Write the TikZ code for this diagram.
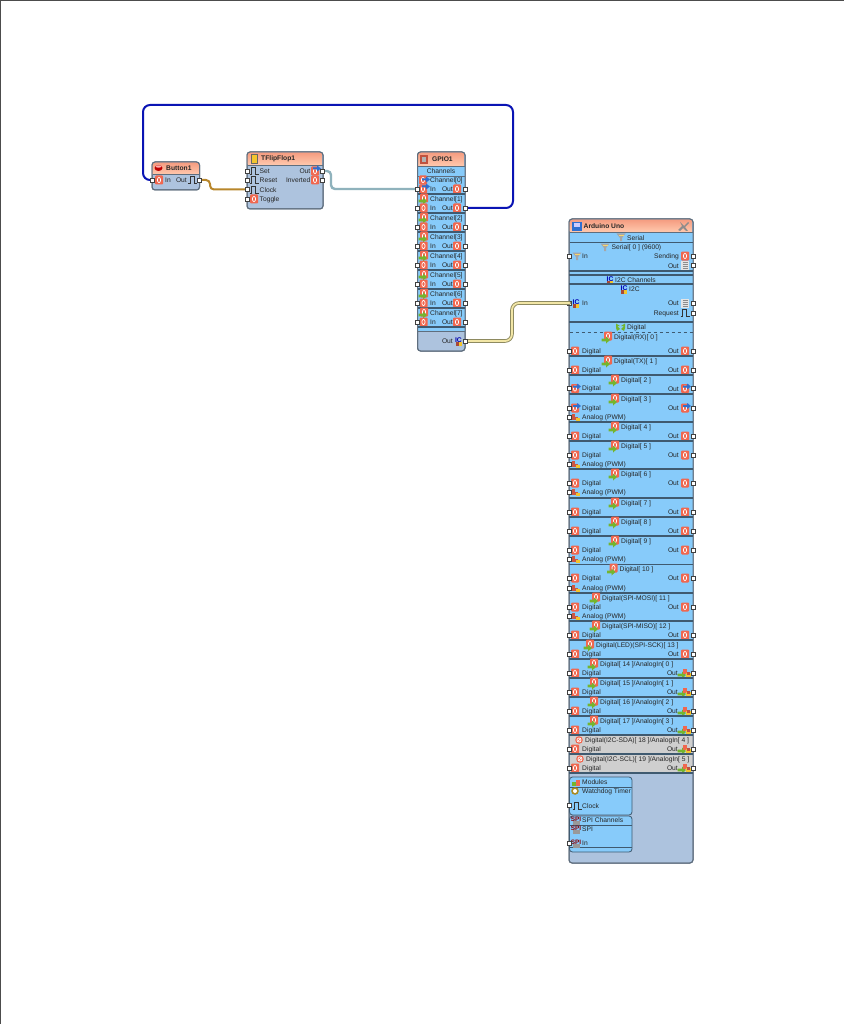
\documentclass[tikz,border=0pt]{standalone}
\usepackage{fontspec}
\setmainfont{Liberation Sans}
\usetikzlibrary{calc}
\definecolor{panel}{HTML}{ADC3DE}
\definecolor{band}{HTML}{87CBFA}
\definecolor{edge}{HTML}{5F6E7E}
\definecolor{sep}{HTML}{3F5A70}
\definecolor{hdA}{HTML}{F59C80}
\definecolor{hdB}{HTML}{FFC9AE}
\definecolor{pinred}{HTML}{F0674F}
\definecolor{wblue}{HTML}{0A14B4}
\definecolor{worange}{HTML}{B8862B}
\definecolor{wteal}{HTML}{8FB2BC}
\definecolor{wyel}{HTML}{F2E6A6}
\definecolor{wyelo}{HTML}{8E8A60}
\definecolor{igreen}{HTML}{74B52E}
\definecolor{iblue}{HTML}{2F6FD0}
\definecolor{iyel}{HTML}{F2C52E}
\definecolor{greyband}{HTML}{CFCFCF}
\tikzset{
 x=1pt,y=-1pt,
 box/.style={draw=edge,line width=1pt,fill=panel,rounded corners=3pt},
 head/.style={top color=hdA,bottom color=hdB,draw=none},
 lbl/.style={font=\fontsize{6.7}{8}\selectfont,text=black!85,inner sep=0pt,yshift=-.5pt},
 ttl/.style={font=\fontsize{6.7}{8}\selectfont\bfseries,text=black!85,inner sep=0pt,yshift=-.5pt},
 pin/.style={draw=black!75,fill=white,line width=.6pt,minimum size=4pt,inner sep=0pt,rectangle},
 sepl/.style={draw=sep,line width=1.5pt},
 wire/.style={line width=2pt,line cap=round},
}
\newcommand{\redi}[1]{\begin{scope}[shift={(#1)}]
 \fill[pinred,rounded corners=1pt] (-4,-4.5) rectangle (4,4.5);
 \draw[white,line width=.7pt] (0,0) ellipse [x radius=1.6pt,y radius=2.6pt];
\end{scope}}
\newcommand{\clk}[1]{\begin{scope}[shift={(#1)}]
 \draw[black!80,line width=.9pt] (-4.5,3.5) -- (-2.5,3.5) -- (-2.5,-3.5) -- (1.5,-3.5) -- (1.5,3.5) -- (4.5,3.5);
\end{scope}}
\newcommand{\greena}[1]{\begin{scope}[shift={(#1)}]
 \fill[igreen] (-4.5,-1.3) -- (0,-1.3) -- (0,-3.5) -- (4,0) -- (0,3.5) -- (0,1.3) -- (-4.5,1.3) -- cycle;
\end{scope}}
\newcommand{\bluea}[1]{\begin{scope}[shift={(#1)}]
 \fill[iblue] (-4,-1) -- (0,-1) -- (0,-3) -- (4,0) -- (0,3) -- (0,1) -- (-4,1) -- cycle;
\end{scope}}
\newcommand{\gicon}[1]{\redi{$(#1)+(-1,-1)$}\greena{$(#1)+(-3,3)$}}
\newcommand{\ana}[1]{\begin{scope}[shift={(#1)}]
 \fill[pinred!85!black] (-4,-3.5) rectangle (-1,3);
 \fill[pinred!85!black] (-1,-.5) rectangle (2,3);
 \fill[iyel] (0,1) rectangle (4,4);
\end{scope}}
\newcommand{\anag}[1]{\begin{scope}[shift={(#1)}]
 \greena{-3,2}
 \fill[pinred] (-2,-4) rectangle (2,1);
 \fill[iyel] (1,0) rectangle (6,3.5);
 \fill[pinred!80!black] (2,-1.5) rectangle (5,1.5);
\end{scope}}
\newcommand{\seri}[1]{\begin{scope}[shift={(#1)}]
 \fill[black!35] (-4.5,-3.5) -- (4.5,-3.5) -- (1,1) -- (1,4) -- (-1,4) -- (-1,1) -- cycle;
 \fill[iyel!70!white] (-2.5,-2.5) rectangle (2.5,-.8);
\end{scope}}
\newcommand{\chipi}[1]{\begin{scope}[shift={(#1)}]
 \fill[white!90!black] (-4,-4.5) rectangle (4,4.5);
 \draw[black!45,line width=.5pt] (-2.5,-3) -- (2.5,-3) (-2.5,-1) -- (2.5,-1) (-2.5,1) -- (2.5,1) (-2.5,3) -- (2.5,3);
\end{scope}}
\newcommand{\iic}[1]{\begin{scope}[shift={(#1)}]
 \fill[pinred!70!black] (-3,1) rectangle (3,4.5);
 \fill[iyel] (0,1) rectangle (3,4.5);
 \node[inner sep=0pt,text=blue!70!black,font=\fontsize{6.8}{7}\selectfont\bfseries] at (0,-.5) {IC};
\end{scope}}
\newcommand{\spii}[1]{\begin{scope}[shift={(#1)}]
 \fill[black!40] (-3.5,1) rectangle (3.5,4.5);
 \node[inner sep=0pt,text=red!55!black,font=\fontsize{6.4}{7}\selectfont\bfseries] at (0,-.5) {SPI};
\end{scope}}
\newcommand{\hdr}[4]{\begin{scope}
 \clip[rounded corners=3pt] (#1,#2) rectangle (#3,#4+6);
 \shade[head] (#1,#2) rectangle (#3,#4);
 \end{scope}
 \draw[edge,line width=.5pt] (#1,#4) -- (#3,#4);}
\newcommand{\lp}[2]{\node[pin] (#1) at (569.5,#2) {};}
\newcommand{\rp}[2]{\node[pin] (#1) at (693,#2) {};}
\newcommand{\dblock}[5]{%
 \node[lbl,anchor=west] (t#1) at (#3,#4) {#2};
 \gicon{#3-5,#4}
 \redi{575,#5}
 \node[lbl,anchor=west] (d#1) at (582,#5) {Digital};
 \node[lbl,anchor=east] (o#1) at (679,#5) {Out};
 \redi{685,#5}
 \lp{pl#1}{#5}\rp{pr#1}{#5}}
\newcommand{\ablock}[2]{%
 \ana{575.5,#2}
 \node[lbl,anchor=west] (a#1) at (582,#2) {Analog (PWM)};
 \lp{pa#1}{#2}}
\newcommand{\sband}[1]{\draw[sepl] (569,#1) -- (693,#1);}
\begin{document}
\begin{tikzpicture}
\useasboundingbox (0,0) rectangle (844,1024);
\fill[white] (0,0) rectangle (844,1024);
\draw[black!70,line width=1pt] (0.5,1024) -- (0.5,0.5) -- (844,0.5);

%% Button1
\draw[box] (152,162) rectangle (199.5,190);
\hdr{152.5}{162.5}{199}{174.5}
\draw[edge,line width=1pt,rounded corners=3pt] (152,162) rectangle (199.5,190);
\fill[red!75!black] (158.5,168) ellipse [x radius=4pt,y radius=3pt];
\fill[white!70!red] (158.5,166.5) ellipse [x radius=3pt,y radius=1.2pt];
\node[ttl,anchor=west] (bt) at (166,168) {Button1};
\redi{159,180}
\node[lbl,anchor=west] (bin) at (165,180) {In};
\node[lbl,anchor=east] (bout) at (187,180) {Out};
\clk{192.5,180}
\node[pin] (bpl) at (152,180) {};
\node[pin] (bpr) at (199.5,180) {};

%% TFlipFlop1
\draw[box] (247,152) rectangle (323,209);
\hdr{247.5}{152.5}{322.5}{165}
\draw[edge,line width=1pt,rounded corners=3pt] (247,152) rectangle (323,209);
\fill[iyel] (251,154.5) rectangle (257,163.5);
\draw[black!60,line width=.4pt] (251,154.5) rectangle (257,163.5);
\node[ttl,anchor=west] (ft) at (261,158.5) {TFlipFlop1};
\foreach \nm/\yy in {Set/171,Reset/180,Clock/189.5}{
 \clk{254,\yy}
 \node[lbl,anchor=west] at (259.5,\yy) {\nm};
}
\redi{254,199}
\node[lbl,anchor=west] (ftog) at (259.5,199) {Toggle};
\node[lbl,anchor=east] (fout) at (310.5,171) {Out};
\node[lbl,anchor=east] (finv) at (310.5,180) {Inverted};
\redi{315,171}\bluea{317,168.5}
\redi{315,180}
\node[pin] (fp1) at (247,171) {};
\node[pin] (fp2) at (247,180) {};
\node[pin] (fp3) at (247,189.5) {};
\node[pin] (fp4) at (247,199) {};
\node[pin] (fpo) at (322.5,171) {};
\node[pin] (fpi) at (322.5,180) {};

%% GPIO1
\draw[box] (417.5,152) rectangle (465,351);
\fill[band] (418,166) rectangle (464.5,331);
\hdr{418}{152.5}{464.5}{166}
\draw[edge,line width=1pt,rounded corners=3pt] (417.5,152) rectangle (465,351);
\fill[pinred!80!black] (420,155) rectangle (428,164);
\fill[white!70!black] (422,157) rectangle (426,162);
\node[ttl,anchor=west] (gt) at (432,158.5) {GPIO1};
\node[lbl] (gch) at (441,171) {Channels};
\draw[edge,line width=.5pt] (418,176) -- (464.5,176);
\foreach \i in {0,...,7}{
 \pgfmathsetmacro{\ya}{180+19*\i}
 \pgfmathsetmacro{\yb}{189+19*\i}
 \pgfmathsetmacro{\ys}{194+19*\i}
 \ifnum\i=0
  \redi{423,\ya}\bluea{426,\ya-.5}
  \redi{423,\yb}\bluea{426,\yb-2.5}
 \else
  \redi{424,\ya-1}\greena{423,\ya+2}
  \redi{423.5,\yb}
 \fi
 \node[lbl,anchor=west] (gc\i) at (430,\ya) {Channel[\i]};
 \node[lbl,anchor=west] (gi\i) at (430,\yb) {In};
 \node[lbl,anchor=east] (go\i) at (453,\yb) {Out};
 \redi{457,\yb}
 \node[pin] (gl\i) at (417.5,\yb) {};
 \node[pin] (gr\i) at (465,\yb) {};
 \draw[sepl] (418,\ys) -- (464.5,\ys);
}
\node[lbl,anchor=east] (gout) at (453,341) {Out};
\iic{458.5,341}
\node[pin] (gpo) at (465,341) {};
\draw[edge,line width=.8pt] (418,331) -- (464.5,331);

%% Arduino
\draw[box] (569,219) rectangle (693,863);
\fill[band] (569.5,232) rectangle (692.5,773);
\fill[greyband] (569.5,736) rectangle (692.5,773);
\hdr{569.5}{219.5}{692.5}{232}
\draw[edge,line width=1pt,rounded corners=3pt] (569,219) rectangle (693,863);
\fill[iblue] (572,222) rectangle (582,231);
\fill[white!80!blue] (573.5,223) rectangle (580,227);
\node[ttl,anchor=west] (at) at (583.5,225.5) {Arduino Uno};
\fill[black!45] (680,222) -- (684,226) -- (688,222) -- (689,223) -- (685,227) -- (688,231) -- (686,231) -- (683,228) -- (680,231) -- (678,230) -- (682,226) -- cycle;
\seri{621,237}
\node[lbl,anchor=west] (sser) at (627,237.5) {Serial};
\draw[sepl,line width=.6pt] (569.5,242) -- (692.5,242);
\seri{605,247}
\node[lbl,anchor=west] (sser0) at (611.5,247) {Serial[ 0 ] (9600)};
\seri{577,256}
\node[lbl,anchor=west] (sin) at (582,256) {In};
\node[lbl,anchor=east] (ssend) at (679,256) {Sending};
\redi{685,256}
\node[lbl,anchor=east] (sout) at (679,265.5) {Out};
\chipi{685,265.5}
\lp{spl}{256}\rp{spr}{256}\rp{spo}{265.5}
\sband{271}\sband{275}
\iic{610,279.5}
\node[lbl,anchor=west] (ic) at (615,279.5) {I2C Channels};
\sband{284}
\iic{624,289}
\node[lbl,anchor=west] (ic2) at (629,289) {I2C};
\node[lbl,anchor=west] (iin) at (582,303) {In};
\node[lbl,anchor=east] (iout) at (679,303) {Out};
\chipi{685,303}
\node[lbl,anchor=east] (ireq) at (679,313) {Request};
\clk{685,313}
\lp{ipl}{303}\rp{ipo}{303}\rp{ipr}{313}
\sband{322}
\fill[igreen] (616,323.5) -- (620,326) -- (617,326) -- (620,329) -- (617,331) -- (616,328) -- cycle;
\fill[igreen] (625,323.5) -- (621,326) -- (624,326) -- (621,329) -- (624,331) -- (625,328) -- cycle;
\node[lbl,anchor=west] (dd) at (627,327) {Digital};
\draw[sep,dashed,line width=.5pt] (569.5,332) -- (692.5,332);
\dblock{0}{Digital(RX)[ 0 ]}{614}{337}{351}\sband{356}
\dblock{1}{Digital(TX)[ 1 ]}{614}{361}{370}\sband{375}
\dblock{2}{Digital[ 2 ]}{621}{380}{388.5}\sband{394}
\bluea{577,386.5}\bluea{687,386.5}
\dblock{3}{Digital[ 3 ]}{621}{399}{408}\ablock{3}{417}\sband{422}
\bluea{577,406}\bluea{687,406}
\dblock{4}{Digital[ 4 ]}{621}{427}{436}\sband{441}
\dblock{5}{Digital[ 5 ]}{621}{446}{455}\ablock{5}{464}\sband{469}
\dblock{6}{Digital[ 6 ]}{621}{474}{483}\ablock{6}{492}\sband{498}
\dblock{7}{Digital[ 7 ]}{621}{503}{512}\sband{517}
\dblock{8}{Digital[ 8 ]}{621}{522}{531}\sband{536}
\dblock{9}{Digital[ 9 ]}{621}{541}{550}\ablock{9}{559}\sband{564.5}
\dblock{10}{Digital[ 10 ]}{619.5}{569}{578}\ablock{10}{588}\sband{593}
\dblock{11}{Digital(SPI-MOSI)[ 11 ]}{602}{598}{607}\ablock{11}{616}\sband{621}
\dblock{12}{Digital(SPI-MISO)[ 12 ]}{602}{626}{635}\sband{640}
\dblock{13}{Digital(LED)(SPI-SCK)[ 13 ]}{596}{645}{654}\sband{659}
\newcommand{\aout}[5]{%
 \node[lbl,anchor=west] (t#1) at (#3,#4) {#2};
 \redi{575,#5}
 \node[lbl,anchor=west] (d#1) at (582,#5) {Digital};
 \node[lbl,anchor=east] (o#1) at (678,#5) {Out};
 \anag{685,#5}
 \lp{pl#1}{#5}\rp{pr#1}{#5}}
\aout{14}{Digital[ 14 ]/AnalogIn[ 0 ]}{600}{664}{673}\gicon{595,664}\sband{678}
\aout{15}{Digital[ 15 ]/AnalogIn[ 1 ]}{600}{683}{692}\gicon{595,683}\sband{697}
\aout{16}{Digital[ 16 ]/AnalogIn[ 2 ]}{600}{702}{711}\gicon{595,702}\sband{716}
\aout{17}{Digital[ 17 ]/AnalogIn[ 3 ]}{600}{721}{730}\gicon{595,721}\sband{735}
\aout{18}{Digital(I2C-SDA)[ 18 ]/AnalogIn[ 4 ]}{585}{740}{749}\sband{754}
\aout{19}{Digital(I2C-SCL)[ 19 ]/AnalogIn[ 5 ]}{586}{759}{768}\sband{773}
\foreach \xx/\yy in {579/740,580/759}{
 \fill[pinred] (\xx,\yy) circle (3.8pt);
 \draw[white,line width=.7pt] (\xx,\yy) circle (2pt);
 \draw[white,line width=.7pt] (\xx-1.4,\yy+1.4) -- (\xx+1.4,\yy-1.4);
}
\draw[sep,fill=band,line width=.8pt,rounded corners=3pt] (569.5,777) rectangle (632,815);
\draw[sep,line width=.8pt] (569.5,787) -- (632,787);
\fill[igreen] (572,782) rectangle (576,786);
\fill[pinred] (576,780) rectangle (580,786);
\node[lbl,anchor=west] (mm) at (582,782) {Modules};
\fill[black!30!iyel] (575,791) circle (3.8pt);
\fill[white] (575,791) circle (2pt);
\node[lbl,anchor=west] (mw) at (582,791) {Watchdog Timer};
\clk{577,805.5}
\node[lbl,anchor=west] (mc) at (582,805.5) {Clock};
\lp{mpl}{805.5}
\draw[sep,fill=band,line width=.8pt,rounded corners=3pt] (569.5,816) rectangle (632,852);
\draw[sep,line width=.8pt] (569.5,825) -- (632,825);
\draw[sep,line width=.8pt] (569.5,847) -- (632,847);
\spii{576,820}
\node[lbl,anchor=west] (sc) at (582,820) {SPI Channels};
\spii{576,829}
\node[lbl,anchor=west] (sp) at (582,829) {SPI};
\spii{576,843}
\node[lbl,anchor=west] (si) at (582,843) {In};
\lp{spil}{843}

%% Wires
\coordinate (wa) at (143,105);
\coordinate (wb) at (513,105);
\draw[wblue,wire,rounded corners=7pt] (bpl.center) -| (wa) -- (wb) |- (gr1.center);
\coordinate (oa) at (210,189.5);
\draw[worange,wire,rounded corners=4pt] (bpr.center) -- (oa |- bpr.center) -- (oa) -- (fp3.center);
\coordinate (ta) at (331,189);
\draw[wteal,wire,line width=2.4pt,rounded corners=4pt] (fpo.center) -- (ta |- fpo.center) -- (ta) -- (gl0.center);
\coordinate (ya) at (512,303);
\draw[wyelo,wire,line width=3.6pt,rounded corners=7pt] (gpo.center) -- (ya |- gpo.center) -- (ya) -- (ipl.center);
\draw[wyel,wire,line width=1.8pt,rounded corners=7pt] (gpo.center) -- (ya |- gpo.center) -- (ya) -- (ipl.center);
\foreach \n in {bpl,bpr,fp3,fpo,gl0,gr1,gpo}{\node[pin] at (\n) {};}
\iic{576,303}
\end{tikzpicture}
\end{document}
